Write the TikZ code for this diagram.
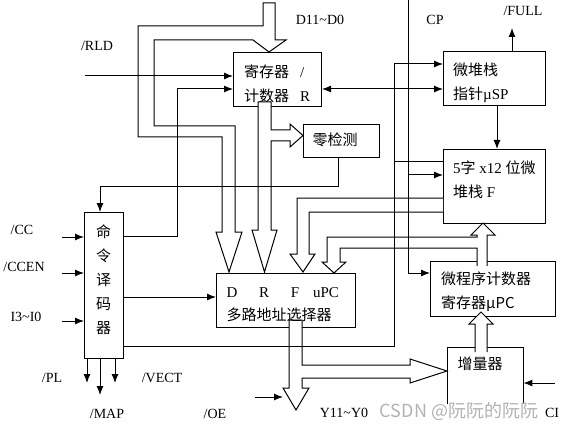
\documentclass[tikz,border=0pt]{standalone}
\usepackage{fontspec}
\setmainfont{Liberation Serif}
\newfontfamily\cjk{Noto Sans CJK SC}
\usetikzlibrary{arrows.meta,positioning}

\begin{document}
\begin{tikzpicture}[x=1pt,y=-1pt,
	box/.style={draw,line width=1pt,inner sep=0pt,anchor=north west},
	txt/.style={inner sep=0pt,align=left,font=\fontsize{15}{24}\selectfont},
	cjktxt/.style={inner sep=0pt,align=left,font=\cjk\fontsize{15}{24}\selectfont},
	lbl/.style={inner sep=0pt,font=\fontsize{14}{16}\selectfont},
	wire/.style={line width=1pt},
	sig/.style={line width=1pt,-{Latex[length=9pt,width=7pt]}},
	dsig/.style={line width=1pt,{Latex[length=9pt,width=7pt]}-{Latex[length=9pt,width=7pt]}},
	bus/.style={line width=1pt,fill=white}]
	\useasboundingbox (0,0) rectangle (569,430);
	\node[box,minimum width=88pt,minimum height=54pt] (R) at (233,52) {};
	\node[box,minimum width=76pt,minimum height=33pt] (Z) at (303,124) {};
	\node[box,minimum width=102pt,minimum height=54pt] (SP) at (443,51) {};
	\node[box,minimum width=102pt,minimum height=74pt] (F) at (443,149) {};
	\node[box,minimum width=39pt,minimum height=146pt] (Dec) at (84,212) {};
	\node[box,minimum width=139pt,minimum height=54pt] (Mux) at (216,273) {};
	\node[box,minimum width=125pt,minimum height=55pt] (PC) at (430,261) {};
	\node[inner sep=0pt,anchor=north west,minimum width=76pt,minimum height=57pt] (Inc) at (447,347) {};
	\draw[wire] (Inc.south west) -- (Inc.north west) -- (Inc.north east) -- (Inc.south east);

	\draw[bus] (263,3) -- (275,3) -- (275,40) -- (286,40) -- (269,52) -- (253,40) -- (154,40) -- (154,126) -- (235,126) -- (235,232) -- (242,232) -- (229,272) -- (216,232) -- (222,232) -- (222,137) -- (138,137) -- (138,26) -- (263,26) -- cycle;
	\draw[bus] (258,102) -- (271,102) -- (271,130) -- (290,130) -- (290,124) -- (303,135.5) -- (290,147) -- (290,141) -- (271,141) -- (271,230) -- (277,230) -- (264.5,272) -- (252,230) -- (258,230) -- cycle;
	\draw[bus] (443,198) -- (297,198) -- (297,254) -- (290,254) -- (303,272) -- (315,254) -- (309,254) -- (309,212) -- (443,212);
	\draw[bus] (487,266) -- (487,235) -- (495,235) -- (483,223) -- (471,235) -- (477,235) -- (477,237) -- (327,237) -- (327,262) -- (322,262) -- (334,273) -- (346,262) -- (340,262) -- (340,248) -- (477,248) -- (477,266);
	\draw[bus] (289,320) -- (302,320) -- (302,365) -- (410,365) -- (410,359) -- (447,371) -- (410,383) -- (410,378) -- (302,378) -- (302,388) -- (309,388) -- (296,410) -- (283,388) -- (289,388) -- cycle;
	\draw[bus] (475,352) -- (475,324) -- (469,324) -- (481,312) -- (493,324) -- (487,324) -- (487,352);

	\draw[sig] (85,76) -- (R.west |- 0,76);
	\draw[sig] (Dec.east |- 0,236) -| (177,89) -- (R.west |- 0,89);
	\draw[sig] (Dec.east |- 0,297) -- (Mux.west |- 0,297);
	\draw[sig] (Dec.east |- 0,346) -| (394,64) -- (SP.west |- 0,64);
	\draw[wire] (394,162) -- (F.west |- 0,162);
	\draw[sig] (Z.south -| 338,0) |- (100,187) -- (Dec.north -| 100,0);
	\draw[sig] (408,0) -- (408,273) -- (PC.west |- 0,273);
	\draw[sig] (408,175) -- (F.west |- 0,175);
	\draw[dsig] (R.east |- 0,89) -- (SP.west |- 0,89);
	\draw[sig] (SP.south -| 497,0) -- (F.north -| 497,0);
	\draw[sig] (SP.north -| 512,0) -- (512,28);
	\draw[sig] (62,237) -- (Dec.west |- 0,237);
	\draw[sig] (62,273) -- (Dec.west |- 0,273);
	\draw[sig] (62,321) -- (Dec.west |- 0,321);
	\draw[sig] (Dec.south -| 87,0) -- (87,383);
	\draw[sig] (Dec.south -| 100,0) -- (100,395);
	\draw[sig] (Dec.south -| 115,0) -- (115,383);
	\draw[sig] (255,397) -- (283,397);
	\draw[sig] (555,383) -- (Inc.east |- 0,383);

	\node[txt,anchor=west] (Rt) at (244,83.5) {{\cjk 寄存器}\hspace{11pt}/\\{\cjk 计数器}\hspace{11pt}R};
	\node[cjktxt] (Zt) at (335,140) {零检测};
	\node[txt,anchor=west] (SPt) at (453,82.5) {{\cjk 微堆栈}\\{\cjk 指针}µSP};
	\node[txt,anchor=west] (Ft) at (453,180) {5{\cjk 字} x12 {\cjk 位微}\\{\cjk 堆栈} F};
	\node[cjktxt,align=center] (Dect) at (103.5,280) {命\\令\\译\\码\\器};
	\node[txt] (mD) at (232,293) {D};
	\node[txt] (mR) at (264,293) {R};
	\node[txt] (mF) at (295,293) {F};
	\node[txt] (mP) at (326,293) {uPC};
	\node[cjktxt] (Muxt) at (279,315) {多路地址选择器};
	\node[cjktxt,anchor=west] (PCt) at (441,291.5) {微程序计数器\\寄存器µPC};
	\node[cjktxt] (Inct) at (480,364) {增量器};

	\node[lbl] (dl) at (320,20) {D11\textasciitilde D0};
	\node[lbl] (cpl) at (435,20) {CP};
	\node[lbl] (fl) at (523,11) {/FULL};
	\node[lbl] (rl) at (97,46) {/RLD};
	\node[lbl] (ccl) at (22,230) {/CC};
	\node[lbl] (cenl) at (24,267) {/CCEN};
	\node[lbl] (il) at (26,317) {I3\textasciitilde I0};
	\node[lbl] (pll) at (52,378) {/PL};
	\node[lbl] (vl) at (162,378) {/VECT};
	\node[lbl] (ml) at (107,414) {/MAP};
	\node[lbl] (oel) at (215,414) {/OE};
	\node[lbl] (yl) at (344,413) {Y11\textasciitilde Y0};
	\node[lbl] (cil) at (552,413) {CI};
	\node[lbl,text=gray!60,font=\cjk\fontsize{18}{22}\selectfont] (wm) at (459,411) {CSDN @阮阮的阮阮};
\end{tikzpicture}
\end{document}
